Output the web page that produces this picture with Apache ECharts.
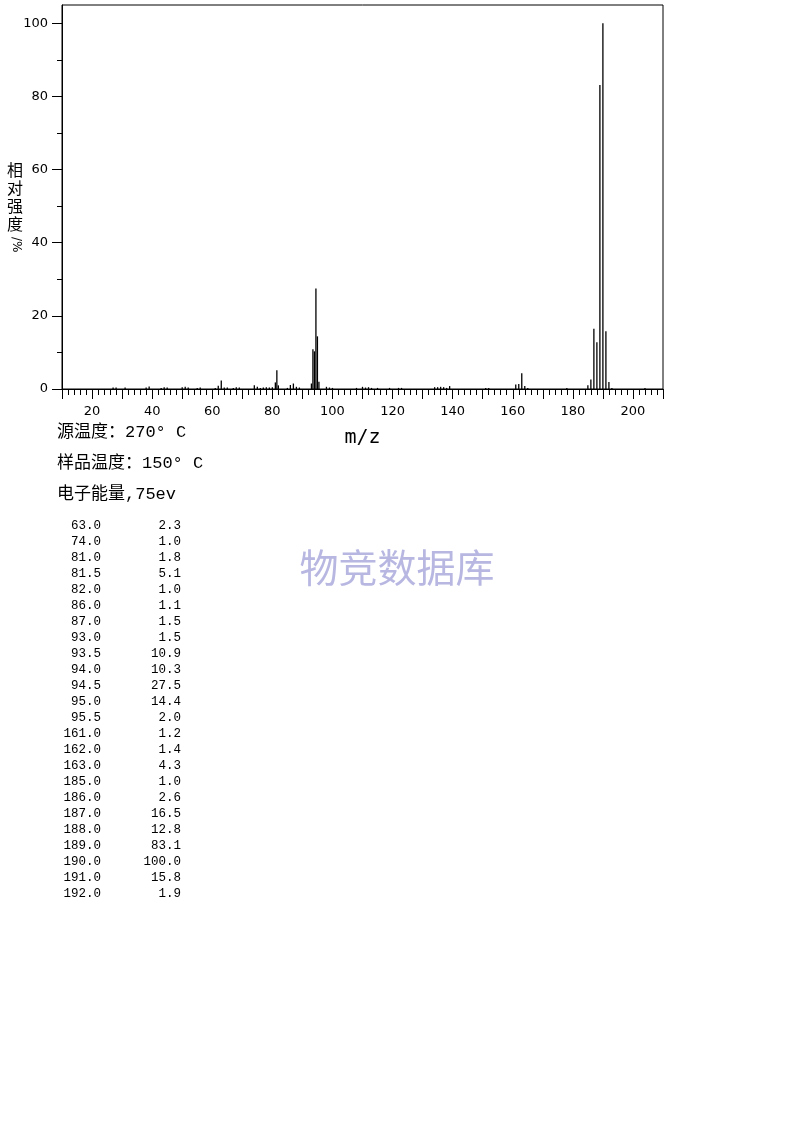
<!DOCTYPE html>
<html>
<head>
<meta charset="utf-8">
<script src="https://cdn.jsdelivr.net/npm/echarts@6/dist/echarts.min.js"></script>
<style>
html,body{margin:0;padding:0;background:#fff;}
#chart{width:794px;height:1134px;}
</style>
</head>
<body>
<div id="chart"></div>
<script>
// Spectrum peaks (m/z, relative intensity %)
const peakMz = [27,28,31,38,39,43,44,45,50,51,52,55,56,61,62,63,64,65,67,68,69,74,75,76,77,78,79,80,81,81.5,82,85,86,87,88,89,93,93.5,94,94.5,95,95.5,98,99,100,108,110,111,112,113,115,119,122,123,134,135,136,137,138,139,151,152,161,162,163,164,165,178,185,186,187,188,189,190,191,192,193,204];
const peakIntensity = [0.4,0.4,0.4,0.4,0.7,0.3,0.5,0.4,0.5,0.6,0.4,0.3,0.4,0.3,0.9,2.3,0.4,0.4,0.3,0.5,0.4,1.0,0.6,0.3,0.4,0.5,0.4,0.5,1.8,5.1,1.0,0.3,1.1,1.5,0.6,0.4,1.5,10.9,10.3,27.5,14.4,2.0,0.6,0.4,0.3,0.3,0.6,0.4,0.5,0.3,0.3,0.3,0.3,0.3,0.5,0.5,0.6,0.5,0.3,0.8,0.3,0.3,1.2,1.4,4.3,0.8,0.3,0.3,1.0,2.6,16.5,12.8,83.1,100.0,15.8,1.9,0.3,0.3];

// Listed peak table
const tableMz = ["63.0","74.0","81.0","81.5","82.0","86.0","87.0","93.0","93.5","94.0","94.5","95.0","95.5","161.0","162.0","163.0","185.0","186.0","187.0","188.0","189.0","190.0","191.0","192.0"];
const tableIntensity = ["2.3","1.0","1.8","5.1","1.0","1.1","1.5","1.5","10.9","10.3","27.5","14.4","2.0","1.2","1.4","4.3","1.0","2.6","16.5","12.8","83.1","100.0","15.8","1.9"];

// Axis ticks
const yMajorTicks = [0,20,40,60,80,100];
const yMinorTicks = [10,30,50,70,90];

// Texts
const yTitleChars = ["相","对","强","度"];
const yTitleUnit = "/%";
const xTitle = "m/z";
const infoLines = ["源温度：270° C","样品温度：150° C","电子能量,75ev"];
const watermark = "物竞数据库";

const chart = echarts.init(document.getElementById('chart'), null, {renderer:'canvas'});

const graphics = [];
yTitleChars.forEach((c,i)=>{
  graphics.push({type:'text', left:7, top:162 + i*18, style:{text:c, font:'16px "Noto Sans CJK SC"', fill:'#000'}});
});
graphics.push({type:'text', x:16, y:237, rotation:-Math.PI/2, style:{text:yTitleUnit, font:'12px "DejaVu Sans"', fill:'#000', textAlign:'left', textVerticalAlign:'middle'}});
infoLines.forEach((t,i)=>{
  graphics.push({type:'text', x:57, y:432 + i*31, style:{text:t, font:'17px "Liberation Mono", "Noto Sans CJK SC"', fill:'#000', textVerticalAlign:'middle'}});
});
tableMz.forEach((m,i)=>{
  graphics.push({type:'text', x:101, y:526 + i*16, style:{text:m, font:'12.5px "Liberation Mono"', fill:'#000', textAlign:'right', textVerticalAlign:'middle'}});
  graphics.push({type:'text', x:181, y:526 + i*16, style:{text:tableIntensity[i], font:'12.5px "Liberation Mono"', fill:'#000', textAlign:'right', textVerticalAlign:'middle'}});
});
graphics.push({type:'text', x:397, y:567, style:{text:watermark, font:'39px "Noto Sans CJK SC"', fill:'#b7b7e2', textAlign:'center', textVerticalAlign:'middle'}});

chart.setOption({
  animation:false,
  backgroundColor:'#fff',
  grid:{left:62, top:5, width:601, height:384, show:true, borderColor:'#000', borderWidth:1, backgroundColor:'transparent'},
  xAxis:{
    type:'value', min:10, max:210, interval:10,
    name:xTitle, nameLocation:'middle', nameGap:39,
    nameTextStyle:{fontFamily:'DejaVu Sans Mono', fontSize:20, color:'#000'},
    axisLine:{lineStyle:{color:'#000', width:1}},
    axisTick:{show:true, length:10, lineStyle:{color:'#000'}},
    minorTick:{show:true, splitNumber:5, length:6, lineStyle:{color:'#000'}},
    splitLine:{show:false},
    axisLabel:{margin:16, fontFamily:'DejaVu Sans', fontSize:13, color:'#000',
      formatter:function(v){return (v%20===0) ? String(v) : '';}}
  },
  yAxis:[{
    type:'value', min:0, max:105, position:'left',
    axisLine:{show:true, lineStyle:{color:'#000', width:1}},
    axisTick:{show:true, length:10, customValues:yMajorTicks, lineStyle:{color:'#000'}},
    axisLabel:{margin:14, customValues:yMajorTicks, fontFamily:'DejaVu Sans', fontSize:13, color:'#000'},
    splitLine:{show:false}
  },{
    type:'value', min:0, max:105, position:'left',
    axisLine:{show:false},
    axisTick:{show:true, length:5, customValues:yMinorTicks, lineStyle:{color:'#000'}},
    axisLabel:{show:false},
    splitLine:{show:false}
  }],
  series:[{
    type:'bar', xAxisIndex:0, yAxisIndex:0,
    barWidth:1.3,
    itemStyle:{color:'#000'},
    data: peakMz.map((m,i)=>[m, peakIntensity[i]])
  }],
  graphic: graphics
});
</script>
</body>
</html>
